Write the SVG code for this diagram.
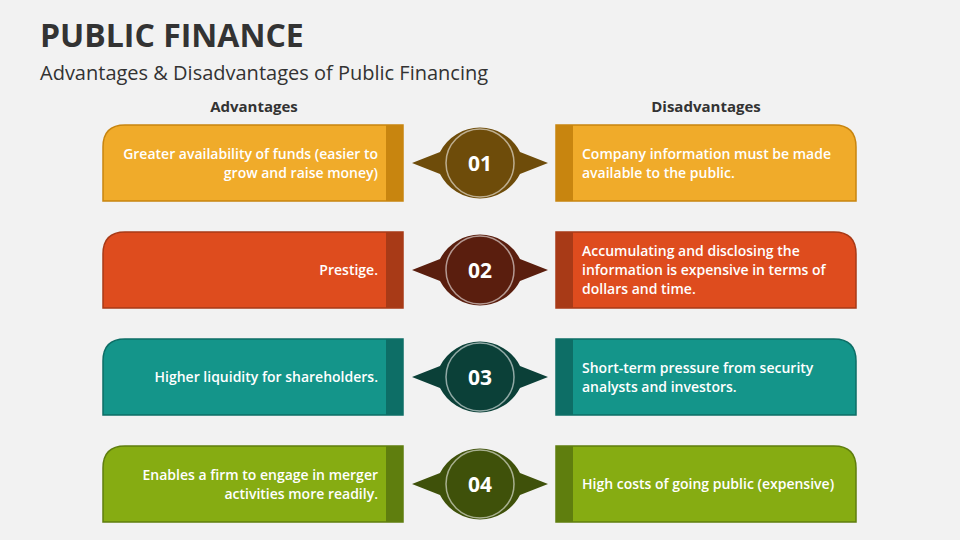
<svg xmlns="http://www.w3.org/2000/svg" width="960" height="540" viewBox="0 0 960 540">
<style>
text{font-family:"Open Sans","Liberation Sans",sans-serif}
.t{font-size:14px;font-weight:600;fill:#fff}
.l{text-anchor:end}
.n{font-size:21px;font-weight:700;fill:#fff;text-anchor:middle}
.h{font-size:15px;font-weight:700;fill:#333;text-anchor:middle}
.ring{fill:none;stroke:#fff;stroke-opacity:.55;stroke-width:1.5}
</style>
<rect width="960" height="540" fill="#f2f2f2"/>
<text x="40" y="47" font-size="32" font-weight="700" fill="#333">PUBLIC FINANCE</text>
<text x="40" y="80" font-size="20" fill="#333">Advantages &amp; Disadvantages of Public Financing</text>
<text class="h" x="254" y="112">Advantages</text>
<text class="h" x="706" y="112">Disadvantages</text>
<g id="connectors"/>
<g id="row1">
<path d="M103,201 V147 Q103,125 125,125 H403 V201 Z" fill="#F0AB2A" stroke="#C8850F" stroke-width="1.5"/>
<rect x="386" y="125" width="17" height="76" fill="#C8850F"/>
<path d="M856,201 V147 Q856,125 834,125 H556 V201 Z" fill="#F0AB2A" stroke="#C8850F" stroke-width="1.5"/>
<rect x="556" y="125" width="17" height="76" fill="#C8850F"/>
<path d="M412,163 L440,152 A45,45 0 0 1 520,152 L548,163 L520,174 A45,45 0 0 1 440,174 Z" fill="#6E4C0A"/>
<circle class="ring" cx="480" cy="163" r="34"/>
<text class="n" x="480" y="171">01</text>
<text class="t l" x="378" y="159">Greater availability of funds (easier to</text>
<text class="t l" x="378" y="178">grow and raise money)</text>
<text class="t" x="582" y="159">Company information must be made</text>
<text class="t" x="582" y="178">available to the public.</text>
</g>
<g id="row2">
<path d="M103,308 V254 Q103,232 125,232 H403 V308 Z" fill="#DE4C1E" stroke="#A83A17" stroke-width="1.5"/>
<rect x="386" y="232" width="17" height="76" fill="#A83A17"/>
<path d="M856,308 V254 Q856,232 834,232 H556 V308 Z" fill="#DE4C1E" stroke="#A83A17" stroke-width="1.5"/>
<rect x="556" y="232" width="17" height="76" fill="#A83A17"/>
<path d="M412,270 L440,259 A45,45 0 0 1 520,259 L548,270 L520,281 A45,45 0 0 1 440,281 Z" fill="#5A1E0E"/>
<circle class="ring" cx="480" cy="270" r="34"/>
<text class="n" x="480" y="278">02</text>
<text class="t l" x="378" y="275">Prestige.</text>
<text class="t" x="582" y="256">Accumulating and disclosing the</text>
<text class="t" x="582" y="275">information is expensive in terms of</text>
<text class="t" x="582" y="294">dollars and time.</text>
</g>
<g id="row3">
<path d="M103,415 V361 Q103,339 125,339 H403 V415 Z" fill="#14958A" stroke="#0D6E66" stroke-width="1.5"/>
<rect x="386" y="339" width="17" height="76" fill="#0D6E66"/>
<path d="M856,415 V361 Q856,339 834,339 H556 V415 Z" fill="#14958A" stroke="#0D6E66" stroke-width="1.5"/>
<rect x="556" y="339" width="17" height="76" fill="#0D6E66"/>
<path d="M412,377 L440,366 A45,45 0 0 1 520,366 L548,377 L520,388 A45,45 0 0 1 440,388 Z" fill="#0B4038"/>
<circle class="ring" cx="480" cy="377" r="34"/>
<text class="n" x="480" y="385">03</text>
<text class="t l" x="378" y="382">Higher liquidity for shareholders.</text>
<text class="t" x="582" y="373">Short-term pressure from security</text>
<text class="t" x="582" y="392">analysts and investors.</text>
</g>
<g id="row4">
<path d="M103,522 V468 Q103,446 125,446 H403 V522 Z" fill="#86AC12" stroke="#5F7E0E" stroke-width="1.5"/>
<rect x="386" y="446" width="17" height="76" fill="#5F7E0E"/>
<path d="M856,522 V468 Q856,446 834,446 H556 V522 Z" fill="#86AC12" stroke="#5F7E0E" stroke-width="1.5"/>
<rect x="556" y="446" width="17" height="76" fill="#5F7E0E"/>
<path d="M412,484 L440,473 A45,45 0 0 1 520,473 L548,484 L520,495 A45,45 0 0 1 440,495 Z" fill="#3F510A"/>
<circle class="ring" cx="480" cy="484" r="34"/>
<text class="n" x="480" y="492">04</text>
<text class="t l" x="378" y="480">Enables a firm to engage in merger</text>
<text class="t l" x="378" y="499">activities more readily.</text>
<text class="t" x="582" y="489">High costs of going public (expensive)</text>
</g>
</svg>
